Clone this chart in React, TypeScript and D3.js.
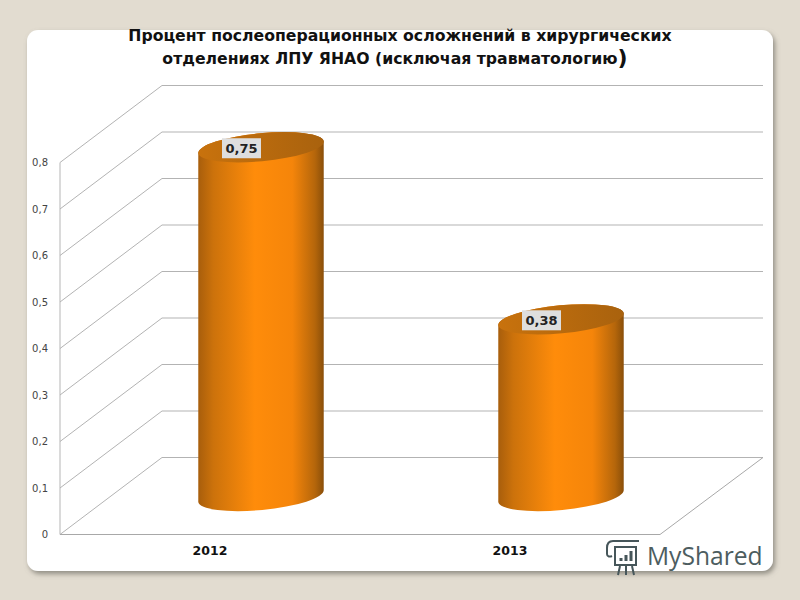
import React from "react";
import * as d3 from "d3";

const categories = ["2012", "2013"];
const values = [0.75, 0.38];
const valueLabels = ["0,75", "0,38"];
const yTicks = [0, 0.1, 0.2, 0.3, 0.4, 0.5, 0.6, 0.7, 0.8];
const yTickLabels = ["0", "0,1", "0,2", "0,3", "0,4", "0,5", "0,6", "0,7", "0,8"];

const font = "'DejaVu Sans', Verdana, sans-serif";

// 3D box of the chart: front floor edge and how far the back wall is shifted
const left = 60;
const right = 660;
const depthX = 102;
const depthY = 77;

const x = d3.scaleBand().domain(categories).range([left, right]);
const y = d3.scaleLinear().domain([0, 0.8]).range([534.5, 162.5]);

const rx = 63;
const ry = 14;
const tilt = -5.4;

const App = () => {
  const rad = (tilt * Math.PI) / 180;
  const dx = rx * Math.cos(rad);
  const dy = rx * Math.sin(rad);

  return (
    <svg
      width={800}
      height={600}
      viewBox="0 0 800 600"
      style={{ position: "absolute", left: 0, top: 0 }}
    >
      <defs>
        <filter id="cardShadow" x="-5%" y="-5%" width="110%" height="110%">
          <feDropShadow dx="2" dy="3" stdDeviation="2.5" floodColor="#7d7a72" floodOpacity="0.8" />
        </filter>
        <linearGradient id="body" x1="0" x2="1" y1="0" y2="0">
          <stop offset="0" stopColor="#a85e0c" />
          <stop offset="0.12" stopColor="#cc720b" />
          <stop offset="0.45" stopColor="#ff8c0a" />
          <stop offset="0.75" stopColor="#f5850a" />
          <stop offset="0.93" stopColor="#b5660b" />
          <stop offset="1" stopColor="#8a4f0a" />
        </linearGradient>
        <linearGradient id="topFace" x1="0" x2="1" y1="0" y2="0">
          <stop offset="0" stopColor="#c8720d" />
          <stop offset="1" stopColor="#a9620e" />
        </linearGradient>
      </defs>

      <rect width={800} height={600} fill="#e2dcd0" />
      <rect x={27} y={30} width={746} height={541} rx={11} fill="#fff" filter="url(#cardShadow)" />

      <text fontFamily={font} fontWeight="bold" fontSize={15.7} fill="#111" textAnchor="middle">
        <tspan x={400} y={41}>Процент послеоперационных осложнений в хирургических</tspan>
        <tspan x={395} y={64}>отделениях ЛПУ ЯНАО (исключая травматологию</tspan>
        <tspan fontSize={22} dy={1}>)</tspan>
      </text>

      {/* walls */}
      <line x1={left} x2={left} y1={y(0)} y2={y(0.8)} stroke="#b5b5b5" />
      {yTicks.map((t, i) => (
        <g key={t}>
          <polyline
            points={`${left},${y(t)} ${left + depthX},${y(t) - depthY} ${right + depthX + 1},${y(t) - depthY}`}
            fill="none"
            stroke="#b3b3b3"
            strokeWidth={1}
          />
          <text x={48} y={y(t)} dy="0.35em" textAnchor="end" fontFamily={font} fontSize={10} fill="#444">
            {yTickLabels[i]}
          </text>
        </g>
      ))}

      {/* floor */}
      <polyline
        points={`${left},${y(0)} ${right},${y(0)} ${right + depthX + 1},${y(0) - depthY}`}
        fill="none"
        stroke="#a8a8a8"
      />

      {categories.map((c, i) => {
        const cx = (x(c) as number) + x.bandwidth() / 2 + depthX / 2;
        const base = y(0) - depthY / 2;
        const top = base - (y(0) - y(values[i]));
        const side =
          `M${cx - dx},${top - dy}` +
          `L${cx - dx},${base - dy}` +
          `A${rx},${ry} ${tilt} 0 0 ${cx + dx},${base + dy}` +
          `L${cx + dx},${top + dy}` +
          `A${rx},${ry} ${tilt} 0 0 ${cx - dx},${top - dy}Z`;
        return (
          <g key={c}>
            <path d={side} fill="url(#body)" />
            <ellipse
              cx={cx}
              cy={top}
              rx={rx}
              ry={ry}
              fill="url(#topFace)"
              transform={`rotate(${tilt} ${cx} ${top})`}
            />
            <rect x={cx - 39} y={top - 9} width={39} height={20} fill="#dedede" />
            <text
              x={cx - 19.5}
              y={top + 1}
              dy="0.35em"
              textAnchor="middle"
              fontFamily={font}
              fontWeight="bold"
              fontSize={13}
              fill="#222"
            >
              {valueLabels[i]}
            </text>
            <text
              x={(x(c) as number) + x.bandwidth() / 2}
              y={555}
              textAnchor="middle"
              fontFamily={font}
              fontWeight="bold"
              fontSize={12.5}
              fill="#111"
            >
              {c}
            </text>
          </g>
        );
      })}

      {/* watermark */}
      <g fill="none" stroke="#46565a" strokeWidth={2}>
        <path d="M613,541h26M613,541c-4,0-6,3-6,7v6c0,3 3,3 5,2M615,547h21v18h-21z" />
        <path d="M620,566l-2,9M626,566v9M632,566l2,9" />
        <path d="M621,561v-3M626,561v-6M631,561v-10" strokeWidth={3} />
      </g>
      <text x={647} y={565} fontFamily="'Open Sans', sans-serif" fontSize={24.6} fill="#4d5d5f">
        MyShared
      </text>
    </svg>
  );
};

export default App;
